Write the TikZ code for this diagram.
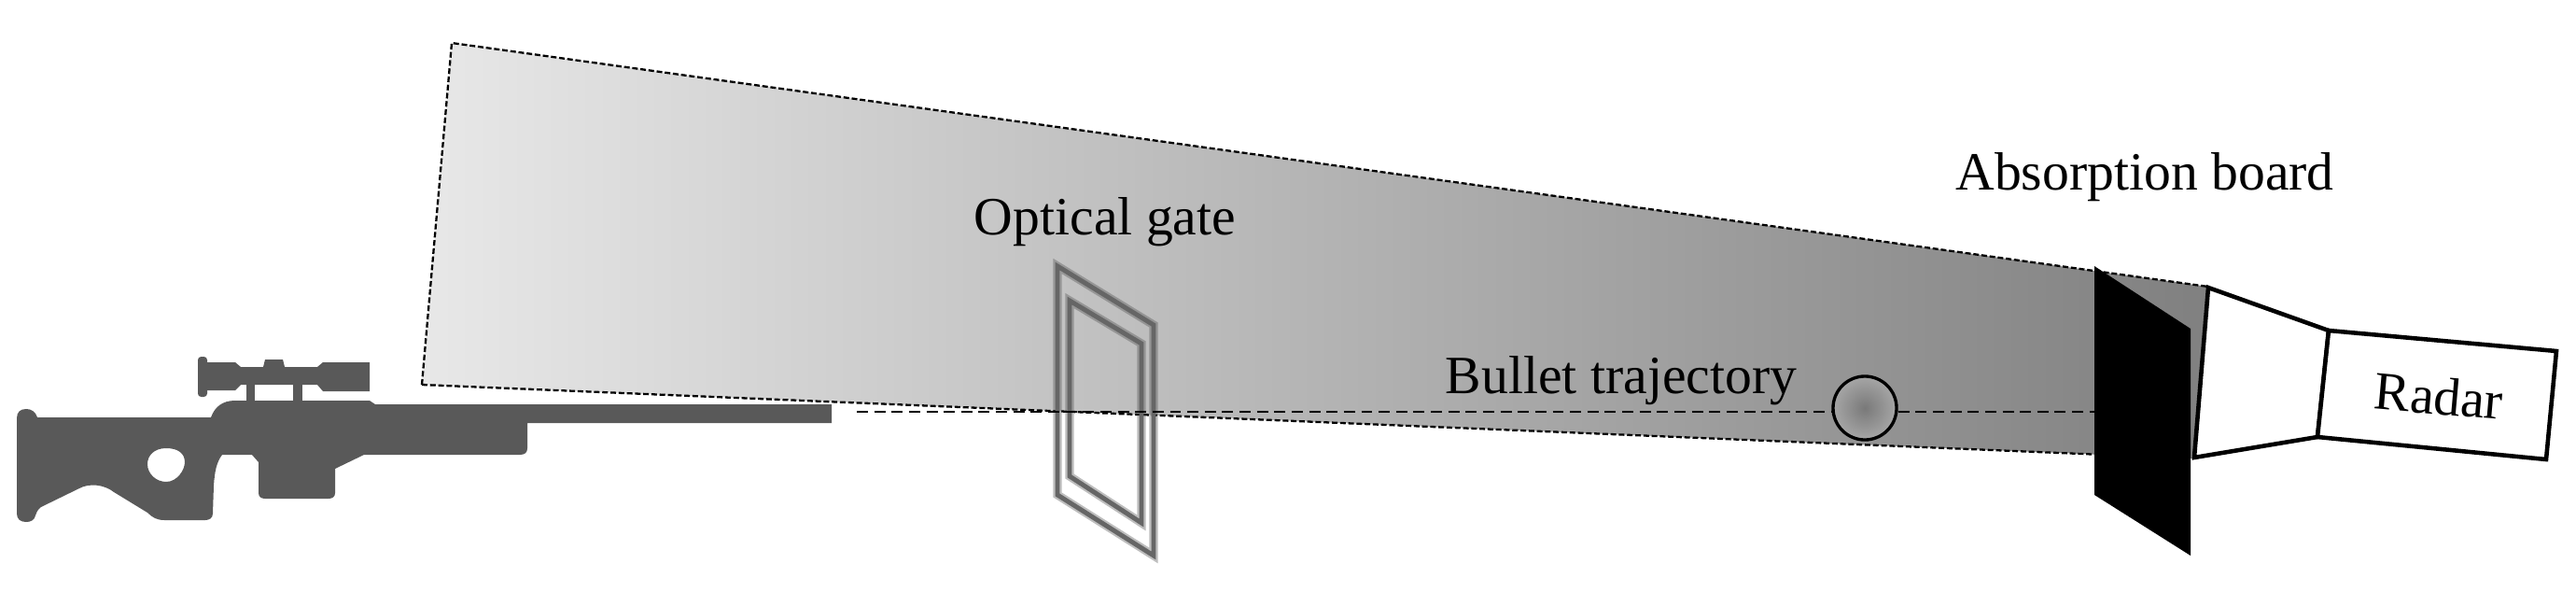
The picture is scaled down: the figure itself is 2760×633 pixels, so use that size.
\documentclass[tikz,border=0pt]{standalone}
\usepackage{fontspec}
\setmainfont{Liberation Serif}
\definecolor{beamlight}{HTML}{E8E8E8}
\definecolor{beamdark}{HTML}{808080}
\definecolor{riflegray}{HTML}{595959}
\definecolor{gategray}{HTML}{666666}
\tikzset{
  beamedge/.style={draw=black, line width=0.65pt, dash pattern=on 1.7pt off 0.8pt},
  trajline/.style={draw=black, line width=0.6pt, dash pattern=on 3.4pt off 1.9pt},
  radarbody/.style={draw=black, fill=white, line width=1.3pt, line join=miter},
  gateframe/.style={draw=gategray, line width=1.4pt},
  gateshadow/.style={draw=black!70, line width=2.6pt, opacity=0.2},
  labeltext/.style={font=\fontsize{16.4}{18}\selectfont, inner sep=0pt}
}

\begin{document}
\begin{tikzpicture}[x=0.01cm, y=-0.01cm]
    \useasboundingbox (0,0) rectangle (2760,633);

    % beam
    \coordinate (beamA) at (484,46);
    \coordinate (beamB) at (2366,307);
    \coordinate (beamC) at (2350,491);
    \coordinate (beamD) at (452,412);
    \shade[left color=beamlight, right color=beamdark] (beamA) -- (beamB) -- (beamC) -- (beamD) -- cycle;
    \draw[beamedge] (beamD) -- (beamA) -- (beamB);
    \draw[beamedge] (beamD) -- (beamC);

    % rifle
    \fill[riflegray, even odd rule]
        (18,448) .. controls (18,441) and (22,438) .. (28,438) .. controls (34,438) and (38,441) .. (40,447)
        -- (226,447) .. controls (230,436) and (238,429) .. (252,429) -- (396,429) -- (402,433)
        -- (891,433) -- (891,453) -- (565,453) -- (565,480) .. controls (565,485) and (562,487) .. (557,487)
        -- (390,487) -- (359,502) -- (359,528) .. controls (359,532) and (356,534) .. (352,534)
        -- (284,534) .. controls (280,534) and (277,532) .. (277,528) -- (277,495) -- (270,487)
        -- (238,487) .. controls (232,495) and (230,505) .. (229,520) -- (228,550)
        .. controls (228,555) and (224,557) .. (220,557) -- (176,557)
        .. controls (168,557) and (163,554) .. (158,549) -- (122,527)
        .. controls (112,519) and (96,517) .. (85,523) -- (44,543)
        .. controls (40,546) and (39,549) .. (38,552) .. controls (37,557) and (33,559) .. (28,559)
        .. controls (22,559) and (18,556) .. (18,550) -- cycle
        (178,480) .. controls (165,480) and (158,488) .. (158,497) .. controls (158,508) and (168,516) .. (178,516)
        .. controls (190,516) and (198,503) .. (198,495) .. controls (198,485) and (190,480) .. (178,480);
    \fill[riflegray] (264,412) rectangle (273,430);
    \fill[riflegray] (314,412) rectangle (324,430);
    \fill[riflegray, rounded corners=1pt] (212,382) rectangle (222,425);
    \fill[riflegray] (220,388) -- (252,388) -- (258,393) -- (282,393) -- (284,385) -- (303,385) -- (305,393)
        -- (340,393) -- (346,388) -- (396,388) -- (396,419) -- (346,419) -- (340,412) -- (258,412)
        -- (252,418) -- (220,418) -- cycle;

    % gate
    \coordinate (gateA) at (1133,285);
    \coordinate (gateB) at (1236,348);
    \coordinate (gateC) at (1236,595);
    \coordinate (gateD) at (1133,530);
    \coordinate (gateE) at (1146,322);
    \coordinate (gateF) at (1223,368);
    \coordinate (gateG) at (1223,560);
    \coordinate (gateH) at (1146,510);
    \foreach \d in {5,9} {
        \draw[gateshadow, shift={(\d,5)}] (gateA) -- (gateB) -- (gateC) -- (gateD) -- cycle;
        \draw[gateshadow, shift={(\d,5)}] (gateE) -- (gateF) -- (gateG) -- (gateH) -- cycle;
    }
    \draw[gateframe] (gateA) -- (gateB) -- (gateC) -- (gateD) -- cycle;
    \draw[gateframe] (gateE) -- (gateF) -- (gateG) -- (gateH) -- cycle;

    % trajectory
    \coordinate (muzzle) at (918,441);
    \coordinate (boardhit) at (2244,441);
    \node[circle, draw=black, line width=0.95pt, minimum size=0.68cm, inner sep=0pt,
          inner color=gray!95!black, outer color=beamdark!70!white] (bullet) at (1998,437) {};
    \draw[trajline] (muzzle) -- (muzzle -| bullet.west);
    \draw[trajline] (muzzle -| bullet.east) -- (boardhit);

    % board
    \fill[black] (2244,285) -- (2347,352) -- (2347,595) -- (2244,530) -- cycle;

    % radar
    \coordinate (hornA) at (2366,308);
    \coordinate (hornB) at (2495,354);
    \coordinate (hornC) at (2483,468);
    \coordinate (hornD) at (2351,490);
    \coordinate (boxB) at (2739,376);
    \coordinate (boxC) at (2728,492);
    \draw[radarbody] (hornA) -- (hornB) -- (hornC) -- (hornD) -- cycle;
    \draw[radarbody] (hornB) -- (boxB) -- (boxC) -- (hornC) -- cycle;

    \node[labeltext, rotate=-5] (radarlabel) at (2613,424) {Radar};
    \node[labeltext] (gatelabel) at (1184,238) {Optical gate};
    \node[labeltext] (boardlabel) at (2298,190) {Absorption board};
    \node[labeltext] (bulletlabel) at (1737,408) {Bullet trajectory};
\end{tikzpicture}
\end{document}
